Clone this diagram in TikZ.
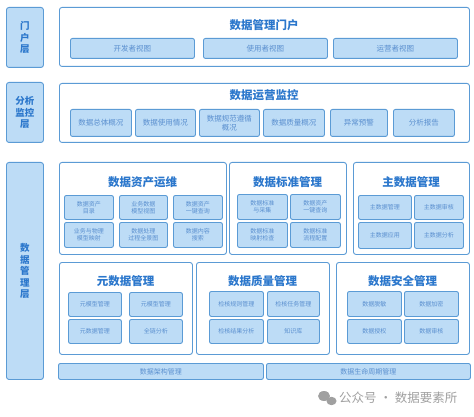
\documentclass[tikz,border=0pt]{standalone}
\usepackage{fontspec}
\setmainfont{Noto Sans CJK SC}
\definecolor{bd}{HTML}{5B9BD5}
\definecolor{fl}{HTML}{BDDCF6}
\definecolor{tx}{HTML}{5A8FCF}
\definecolor{tt}{HTML}{2B77CC}
\definecolor{wm}{HTML}{A0A0A0}
\newcommand\bx[7]{\node[#2, anchor=north west, minimum width={#5pt-#3pt}, minimum height={#6pt-#4pt}] (#1) at (#3,#4) {#7};}
\begin{document}
\begin{tikzpicture}[x=1pt,y=-1pt,
  outer/.style={draw=bd, fill=white, rounded corners=2.5pt, line width=0.9pt, inner sep=0pt},
  sub/.style={draw=bd, fill=fl, rounded corners=2pt, line width=0.9pt, inner sep=0pt, text=tx, font=\fontsize{6}{7}\selectfont, align=center},
  big/.style={sub, font=\fontsize{7.5}{9}\selectfont},
  bar/.style={sub, font=\fontsize{7}{8}\selectfont},
  layer/.style={draw=bd, fill=fl, rounded corners=2.5pt, line width=0.9pt, inner sep=0pt, text=tt, font=\fontsize{9.5}{11.5}\selectfont\bfseries, align=center},
  ttl/.style={text=tt, font=\fontsize{11.5}{13}\selectfont\bfseries, inner sep=0pt}]
\useasboundingbox (0,0) rectangle (474,417);
% ---------- layer labels
\bx{L1}{layer}{6}{7}{43}{67}{门\\户\\层}
\bx{L2}{layer}{6}{82}{43}{142}{分析\\监控\\层}
\bx{L3}{layer}{6}{162}{43}{379}{数\\据\\管\\理\\层}
% ---------- portal
\bx{P}{outer}{59}{7}{469}{66}{}
\node[ttl] (Pt) at (264,25) {数据管理门户};
\bx{P1}{big}{70}{38}{194}{58}{开发者视图}
\bx{P2}{big}{203}{38}{327}{58}{使用者视图}
\bx{P3}{big}{333}{38}{457}{58}{运营者视图}
% ---------- analysis
\bx{A}{outer}{59}{83}{469}{142}{}
\node[ttl] (At) at (264,95) {数据运营监控};
\bx{A1}{big}{70}{109}{131}{136}{数据总体概况}
\bx{A2}{big}{135}{109}{195}{136}{数据使用情况}
\bx{A3}{big}{199}{109}{259}{136}{数据规范遵循\\概况}
\bx{A4}{big}{263}{109}{324}{136}{数据质量概况}
\bx{A5}{big}{330}{109}{387}{136}{异常预警}
\bx{A6}{big}{393}{109}{454}{136}{分析报告}
% ---------- group 1
\bx{G1}{outer}{59}{162}{226}{254}{}
\node[ttl] (G1t) at (142.5,182) {数据资产运维};
\bx{G11}{sub}{64}{195}{113}{219}{数据资产\\目录}
\bx{G12}{sub}{119}{195}{167}{219}{业务数据\\模型视图}
\bx{G13}{sub}{173}{195}{222}{219}{数据资产\\一键查询}
\bx{G14}{sub}{64}{222}{113}{247}{业务与物理\\模型映射}
\bx{G15}{sub}{119}{222}{167}{247}{数据处理\\过程全景图}
\bx{G16}{sub}{173}{222}{222}{247}{数据内容\\搜索}
% ---------- group 2
\bx{G2}{outer}{229}{162}{346}{254}{}
\node[ttl] (G2t) at (287.5,182) {数据标准管理};
\bx{G21}{sub}{237}{194}{287}{219}{数据标准\\与采集}
\bx{G22}{sub}{290}{194}{340}{219}{数据资产\\一键查询}
\bx{G23}{sub}{237}{222}{287}{247}{数据标准\\映射检查}
\bx{G24}{sub}{290}{222}{340}{247}{数据标准\\流程配置}
% ---------- group 3
\bx{G3}{outer}{353}{162}{469}{254}{}
\node[ttl] (G3t) at (411,182) {主数据管理};
\bx{G31}{sub}{358}{195}{411}{219}{主数据管理}
\bx{G32}{sub}{414}{195}{463}{219}{主数据审核}
\bx{G33}{sub}{358}{222}{411}{248}{主数据应用}
\bx{G34}{sub}{414}{222}{463}{248}{主数据分析}
% ---------- group 4
\bx{G4}{outer}{59}{262}{192}{354}{}
\node[ttl] (G4t) at (125.5,281) {元数据管理};
\bx{G41}{sub}{68}{292}{121}{316}{元模型管理}
\bx{G42}{sub}{129}{292}{182}{316}{元模型管理}
\bx{G43}{sub}{68}{319}{121}{343}{元数据管理}
\bx{G44}{sub}{129}{319}{182}{343}{全链分析}
% ---------- group 5
\bx{G5}{outer}{196}{262}{329}{354}{}
\node[ttl] (G5t) at (262.5,281) {数据质量管理};
\bx{G51}{sub}{209}{291}{263}{316}{检核规则管理}
\bx{G52}{sub}{267}{291}{319}{316}{检核任务管理}
\bx{G53}{sub}{209}{319}{263}{343}{检核结果分析}
\bx{G54}{sub}{267}{319}{319}{343}{知识库}
% ---------- group 6
\bx{G6}{outer}{336}{262}{469}{354}{}
\node[ttl] (G6t) at (402.5,281) {数据安全管理};
\bx{G61}{sub}{347}{291}{401}{316}{数据脱敏}
\bx{G62}{sub}{404}{291}{458}{316}{数据加密}
\bx{G63}{sub}{347}{319}{401}{343}{数据授权}
\bx{G64}{sub}{404}{319}{458}{343}{数据审核}
% ---------- bottom bars
\bx{B1}{bar}{58}{363}{263}{379}{数据架构管理}
\bx{B2}{bar}{266}{363}{470}{379}{数据生命周期管理}
% ---------- watermark
\fill[wm] (324,396) ellipse (6pt and 5pt);
\fill[wm] (331.5,401) ellipse (5pt and 4.2pt);
\node[text=wm, font=\fontsize{12.5}{14}\selectfont, anchor=west, inner sep=0pt] (W) at (339,398) {公众号 · 数据要素所};
\end{tikzpicture}
\end{document}
